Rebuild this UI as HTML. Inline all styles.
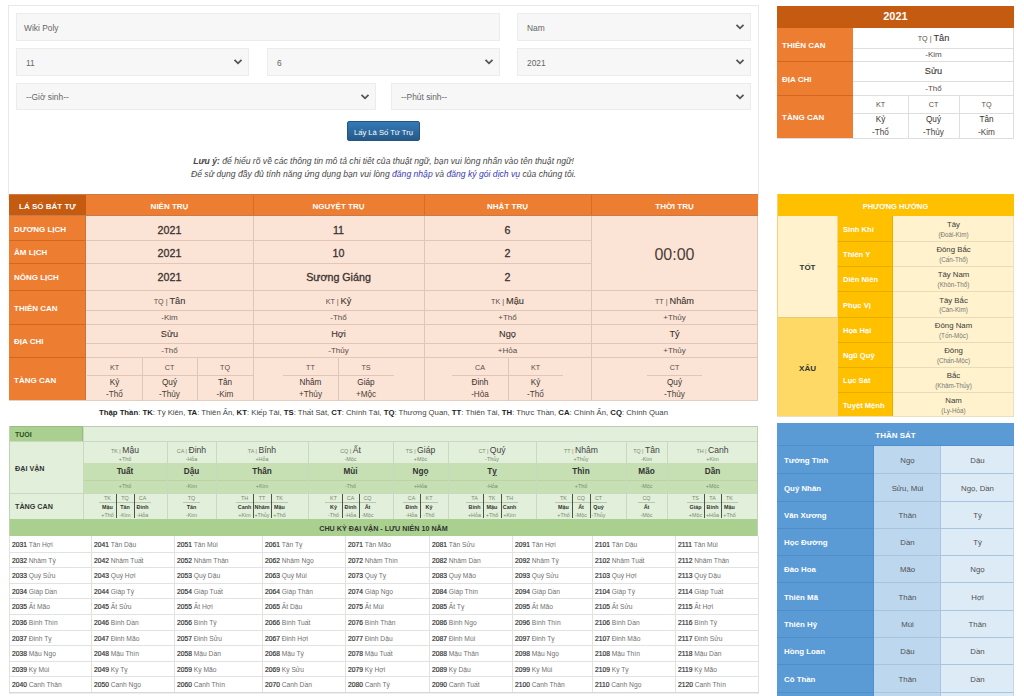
<!DOCTYPE html><html><head><meta charset="utf-8"><title>Lá số bát tự</title><style>
*{margin:0;padding:0}
html,body{width:1024px;height:696px;overflow:hidden;background:#fff}
body{position:relative;font-family:"Liberation Sans",sans-serif;color:#333}
.a{position:absolute}
.c{box-sizing:border-box;padding-top:3px;display:flex;align-items:center;justify-content:center;text-align:center;white-space:nowrap;line-height:1.2}
.fm{font-size:8.4px;color:#666;padding-top:2px}
.chev{display:block}
.btn{font-size:7.6px;color:#fff}
.note{font-size:8.6px;font-style:italic;color:#484848}
.note b{font-weight:bold}
.lk{color:#3a3ab4}
.hd{font-size:8px;font-weight:bold;color:#fff}
.lb{font-size:8px;font-weight:bold;color:#fff}
.v{padding-top:5px;font-size:10.7px;color:#3b3230;-webkit-text-stroke:0.3px #3b3230}
.v2{padding-top:2px;font-size:9.2px;color:#3b3230;-webkit-text-stroke:0.1px #3b3230}
.sm{padding-top:2px;font-size:7.2px;color:#5a4c48;-webkit-text-stroke:0}
.el{padding-top:1px;font-size:8px;color:#5a4c48}
.tg{padding-top:1px;font-size:8.2px;color:#4a3f3c;line-height:12.3px}
.tg i{font-style:normal;color:#3b3230}
.clk{font-size:16px;color:#4a3c38}
.tt{font-size:7.74px;color:#444}
.tt b{color:#222}
.gl{font-size:7px;font-weight:bold;color:#2e4d1e}
.gl2{font-size:7.2px;font-weight:bold;color:#333}
.gv{font-size:8.6px;color:#444;padding-top:1px}
.gt{font-size:5.4px;color:#7a8a70;padding-top:0}
.gtb{font-size:5.4px;font-weight:bold;color:#333;padding-top:0}
.gch{font-size:8.2px;font-weight:bold;color:#333;padding-top:0}
.yr{font-size:6.7px;color:#707070;padding-top:3px}
.yr b{color:#333;font-weight:normal;-webkit-text-stroke:0.2px #333}
.yh{padding-top:0;font-size:11px;font-weight:bold;color:#fff}
.yb{font-size:8px;font-weight:bold;color:#333}
.yl{font-size:7.6px;font-weight:bold;color:#fff}
.yv{font-size:7.8px;color:#3a3a3a;line-height:9.2px;flex-direction:column;padding-top:2px}
.ys{font-size:6.3px;color:#777}
.bl{font-size:7.85px;font-weight:bold;color:#fff}
.bv{font-size:7.8px;color:#505050}
</style></head><body>
<div class="a" style="left:8px;top:5px;width:751px;height:195px;border:1px solid #e8e8e8;border-bottom:none;box-sizing:border-box;background:#fff"></div>
<div class="a" style="left:16px;top:13px;width:484px;height:28px;background:#f7f7f7;border:1px solid #ececec;box-sizing:border-box"></div>
<div class="a c fm" style="left:24px;top:13px;width:456px;height:28px;justify-content:flex-start"><span>Wiki Poly</span></div>
<div class="a" style="left:517px;top:13px;width:234px;height:28px;background:#f7f7f7;border:1px solid #ececec;box-sizing:border-box"></div>
<div class="a c fm" style="left:527px;top:13px;width:204px;height:28px;justify-content:flex-start"><span>Nam</span></div>
<div class="a" style="left:735px;top:23.0px;width:10px;height:7px"><svg class="chev" width="10" height="7" viewBox="0 0 10 7"><path d="M1.5 1.8 L5 5.3 L8.5 1.8" fill="none" stroke="#555" stroke-width="1.8"/></svg></div>
<div class="a" style="left:16px;top:48px;width:233px;height:28px;background:#f7f7f7;border:1px solid #ececec;box-sizing:border-box"></div>
<div class="a c fm" style="left:26px;top:48px;width:203px;height:28px;justify-content:flex-start"><span>11</span></div>
<div class="a" style="left:233px;top:58.0px;width:10px;height:7px"><svg class="chev" width="10" height="7" viewBox="0 0 10 7"><path d="M1.5 1.8 L5 5.3 L8.5 1.8" fill="none" stroke="#555" stroke-width="1.8"/></svg></div>
<div class="a" style="left:267px;top:48px;width:233px;height:28px;background:#f7f7f7;border:1px solid #ececec;box-sizing:border-box"></div>
<div class="a c fm" style="left:277px;top:48px;width:203px;height:28px;justify-content:flex-start"><span>6</span></div>
<div class="a" style="left:484px;top:58.0px;width:10px;height:7px"><svg class="chev" width="10" height="7" viewBox="0 0 10 7"><path d="M1.5 1.8 L5 5.3 L8.5 1.8" fill="none" stroke="#555" stroke-width="1.8"/></svg></div>
<div class="a" style="left:517px;top:48px;width:234px;height:28px;background:#f7f7f7;border:1px solid #ececec;box-sizing:border-box"></div>
<div class="a c fm" style="left:527px;top:48px;width:204px;height:28px;justify-content:flex-start"><span>2021</span></div>
<div class="a" style="left:735px;top:58.0px;width:10px;height:7px"><svg class="chev" width="10" height="7" viewBox="0 0 10 7"><path d="M1.5 1.8 L5 5.3 L8.5 1.8" fill="none" stroke="#555" stroke-width="1.8"/></svg></div>
<div class="a" style="left:16px;top:83px;width:360px;height:27px;background:#f7f7f7;border:1px solid #ececec;box-sizing:border-box"></div>
<div class="a c fm" style="left:26px;top:83px;width:330px;height:27px;justify-content:flex-start"><span>--Giờ sinh--</span></div>
<div class="a" style="left:360px;top:92.5px;width:10px;height:7px"><svg class="chev" width="10" height="7" viewBox="0 0 10 7"><path d="M1.5 1.8 L5 5.3 L8.5 1.8" fill="none" stroke="#555" stroke-width="1.8"/></svg></div>
<div class="a" style="left:391px;top:83px;width:360px;height:27px;background:#f7f7f7;border:1px solid #ececec;box-sizing:border-box"></div>
<div class="a c fm" style="left:401px;top:83px;width:330px;height:27px;justify-content:flex-start"><span>--Phút sinh--</span></div>
<div class="a" style="left:735px;top:92.5px;width:10px;height:7px"><svg class="chev" width="10" height="7" viewBox="0 0 10 7"><path d="M1.5 1.8 L5 5.3 L8.5 1.8" fill="none" stroke="#555" stroke-width="1.8"/></svg></div>
<div class="a" style="left:347px;top:121px;width:73px;height:20px;background:linear-gradient(#337ab7,#265a88);border-radius:2px;border:1px solid #245580;box-sizing:border-box"></div>
<div class="a c btn" style="left:347px;top:121px;width:73px;height:20px;"><span>Lấy Lá Số Tứ Trụ</span></div>
<div class="a c note" style="left:100px;top:153px;width:567px;height:13px;"><span><b>Lưu ý:</b> để hiểu rõ về các thông tin mô tả chi tiết của thuật ngữ, bạn vui lòng nhấn vào tên thuật ngữ!</span></div>
<div class="a c note" style="left:100px;top:166px;width:567px;height:13px;"><span>Để sử dụng đầy đủ tính năng ứng dụng bạn vui lòng <span class="lk">đăng nhập</span> và <span class="lk">đăng ký gói dịch vụ</span> của chúng tôi.</span></div>
<div class="a" style="left:9px;top:194px;width:77px;height:22px;background:#c55a11"></div>
<div class="a" style="left:86px;top:194px;width:672px;height:22px;background:#ed7d31"></div>
<div class="a" style="left:253px;top:194px;width:1px;height:22px;background:#d86c22"></div>
<div class="a" style="left:424px;top:194px;width:1px;height:22px;background:#d86c22"></div>
<div class="a" style="left:591px;top:194px;width:1px;height:22px;background:#d86c22"></div>
<div class="a" style="left:9px;top:194px;width:749px;height:1px;background:#cf7a45"></div>
<div class="a" style="left:9px;top:215px;width:749px;height:1px;background:#c97a4a"></div>
<div class="a c hd" style="left:9px;top:194px;width:77px;height:22px;"><span>LÁ SỐ BÁT TỰ</span></div>
<div class="a c hd" style="left:86px;top:194px;width:167px;height:22px;"><span>NIÊN TRỤ</span></div>
<div class="a c hd" style="left:253px;top:194px;width:171px;height:22px;"><span>NGUYỆT TRỤ</span></div>
<div class="a c hd" style="left:424px;top:194px;width:167px;height:22px;"><span>NHẬT TRỤ</span></div>
<div class="a c hd" style="left:591px;top:194px;width:167px;height:22px;"><span>THỜI TRỤ</span></div>
<div class="a" style="left:9px;top:216px;width:77px;height:185px;background:#ed7d31"></div>
<div class="a c lb" style="left:14px;top:216px;width:72px;height:24px;justify-content:flex-start"><span>DƯƠNG LỊCH</span></div>
<div class="a" style="left:9px;top:240px;width:77px;height:1px;background:#d4671f"></div>
<div class="a c lb" style="left:14px;top:240px;width:72px;height:23px;justify-content:flex-start"><span>ÂM LỊCH</span></div>
<div class="a" style="left:9px;top:263px;width:77px;height:1px;background:#d4671f"></div>
<div class="a c lb" style="left:14px;top:263px;width:72px;height:27px;justify-content:flex-start"><span>NÔNG LỊCH</span></div>
<div class="a" style="left:9px;top:290px;width:77px;height:1px;background:#d4671f"></div>
<div class="a c lb" style="left:14px;top:290px;width:72px;height:34px;justify-content:flex-start"><span>THIÊN CAN</span></div>
<div class="a" style="left:9px;top:324px;width:77px;height:1px;background:#d4671f"></div>
<div class="a c lb" style="left:14px;top:324px;width:72px;height:33px;justify-content:flex-start"><span>ĐỊA CHI</span></div>
<div class="a" style="left:9px;top:357px;width:77px;height:1px;background:#d4671f"></div>
<div class="a c lb" style="left:14px;top:357px;width:72px;height:44px;justify-content:flex-start"><span>TÀNG CAN</span></div>
<div class="a" style="left:85px;top:216px;width:1px;height:185px;background:#c8743e"></div>
<div class="a" style="left:86px;top:216px;width:672px;height:185px;background:#fbe4d5"></div>
<div class="a" style="left:86px;top:240px;width:505px;height:1px;background:#dfc6b6"></div>
<div class="a" style="left:86px;top:263px;width:505px;height:1px;background:#dfc6b6"></div>
<div class="a" style="left:86px;top:290px;width:672px;height:1px;background:#dfc6b6"></div>
<div class="a" style="left:86px;top:310px;width:672px;height:1px;background:#dfc6b6"></div>
<div class="a" style="left:86px;top:324px;width:672px;height:1px;background:#dfc6b6"></div>
<div class="a" style="left:86px;top:343px;width:672px;height:1px;background:#dfc6b6"></div>
<div class="a" style="left:86px;top:357px;width:672px;height:1px;background:#dfc6b6"></div>
<div class="a" style="left:253px;top:216px;width:1px;height:185px;background:#dfc6b6"></div>
<div class="a" style="left:424px;top:216px;width:1px;height:185px;background:#dfc6b6"></div>
<div class="a" style="left:591px;top:216px;width:1px;height:185px;background:#dfc6b6"></div>
<div class="a" style="left:757px;top:216px;width:1px;height:185px;background:#e0c8b8"></div>
<div class="a" style="left:9px;top:400px;width:749px;height:1px;background:#e3cfc2"></div>
<div class="a c v" style="left:86px;top:216px;width:167px;height:24px;"><span>2021</span></div>
<div class="a c v" style="left:253px;top:216px;width:171px;height:24px;"><span>11</span></div>
<div class="a c v" style="left:424px;top:216px;width:167px;height:24px;"><span>6</span></div>
<div class="a c v" style="left:86px;top:240px;width:167px;height:23px;padding-top:3px"><span>2021</span></div>
<div class="a c v" style="left:253px;top:240px;width:171px;height:23px;padding-top:3px"><span>10</span></div>
<div class="a c v" style="left:424px;top:240px;width:167px;height:23px;padding-top:3px"><span>2</span></div>
<div class="a c v" style="left:86px;top:263px;width:167px;height:27px;padding-top:2.5px"><span>2021</span></div>
<div class="a c v" style="left:253px;top:263px;width:171px;height:27px;padding-top:2.5px"><span>Sương Giáng</span></div>
<div class="a c v" style="left:424px;top:263px;width:167px;height:27px;padding-top:2.5px"><span>2</span></div>
<div class="a c clk" style="left:591px;top:216px;width:167px;height:74px;"><span>00:00</span></div>
<div class="a c v2" style="left:86px;top:290px;width:167px;height:21px;"><span><span class="sm">TQ | </span>Tân</span></div>
<div class="a c el" style="left:86px;top:311px;width:167px;height:13px;"><span>-Kim</span></div>
<div class="a c v2" style="left:86px;top:324px;width:167px;height:19px;"><span>Sửu</span></div>
<div class="a c el" style="left:86px;top:343px;width:167px;height:14px;"><span>-Thổ</span></div>
<div class="a c v2" style="left:253px;top:290px;width:171px;height:21px;"><span><span class="sm">KT | </span>Kỷ</span></div>
<div class="a c el" style="left:253px;top:311px;width:171px;height:13px;"><span>-Thổ</span></div>
<div class="a c v2" style="left:253px;top:324px;width:171px;height:19px;"><span>Hợi</span></div>
<div class="a c el" style="left:253px;top:343px;width:171px;height:14px;"><span>-Thủy</span></div>
<div class="a c v2" style="left:424px;top:290px;width:167px;height:21px;"><span><span class="sm">TK | </span>Mậu</span></div>
<div class="a c el" style="left:424px;top:311px;width:167px;height:13px;"><span>+Thổ</span></div>
<div class="a c v2" style="left:424px;top:324px;width:167px;height:19px;"><span>Ngọ</span></div>
<div class="a c el" style="left:424px;top:343px;width:167px;height:14px;"><span>+Hỏa</span></div>
<div class="a c v2" style="left:591px;top:290px;width:167px;height:21px;"><span><span class="sm">TT | </span>Nhâm</span></div>
<div class="a c el" style="left:591px;top:311px;width:167px;height:13px;"><span>+Thủy</span></div>
<div class="a c v2" style="left:591px;top:324px;width:167px;height:19px;"><span>Tý</span></div>
<div class="a c el" style="left:591px;top:343px;width:167px;height:14px;"><span>+Thủy</span></div>
<div class="a" style="left:87px;top:375px;width:166px;height:1px;background:#dfc6b6"></div>
<div class="a" style="left:142px;top:357px;width:1px;height:44px;background:#dfc6b6"></div>
<div class="a" style="left:197px;top:357px;width:1px;height:44px;background:#dfc6b6"></div>
<div class="a c sm" style="left:87px;top:357px;width:55px;height:18px;padding-top:5px"><span>KT</span></div>
<div class="a c tg" style="left:87px;top:376px;width:55px;height:25px;"><span><i>Kỷ</i><br>-Thổ</span></div>
<div class="a c sm" style="left:142px;top:357px;width:55px;height:18px;padding-top:5px"><span>CT</span></div>
<div class="a c tg" style="left:142px;top:376px;width:55px;height:25px;"><span><i>Quý</i><br>-Thủy</span></div>
<div class="a c sm" style="left:197px;top:357px;width:56px;height:18px;padding-top:5px"><span>TQ</span></div>
<div class="a c tg" style="left:197px;top:376px;width:56px;height:25px;"><span><i>Tân</i><br>-Kim</span></div>
<div class="a" style="left:283px;top:375px;width:111px;height:1px;background:#dfc6b6"></div>
<div class="a" style="left:338px;top:357px;width:1px;height:44px;background:#dfc6b6"></div>
<div class="a c sm" style="left:283px;top:357px;width:55px;height:18px;padding-top:5px"><span>TT</span></div>
<div class="a c tg" style="left:283px;top:376px;width:55px;height:25px;"><span><i>Nhâm</i><br>+Thủy</span></div>
<div class="a c sm" style="left:338px;top:357px;width:56px;height:18px;padding-top:5px"><span>TS</span></div>
<div class="a c tg" style="left:338px;top:376px;width:56px;height:25px;"><span><i>Giáp</i><br>+Mộc</span></div>
<div class="a" style="left:452px;top:375px;width:111px;height:1px;background:#dfc6b6"></div>
<div class="a" style="left:508px;top:357px;width:1px;height:44px;background:#dfc6b6"></div>
<div class="a c sm" style="left:452px;top:357px;width:56px;height:18px;padding-top:5px"><span>CA</span></div>
<div class="a c tg" style="left:452px;top:376px;width:56px;height:25px;"><span><i>Đinh</i><br>-Hỏa</span></div>
<div class="a c sm" style="left:508px;top:357px;width:55px;height:18px;padding-top:5px"><span>KT</span></div>
<div class="a c tg" style="left:508px;top:376px;width:55px;height:25px;"><span><i>Kỷ</i><br>-Thổ</span></div>
<div class="a" style="left:647px;top:375px;width:55px;height:1px;background:#dfc6b6"></div>
<div class="a c sm" style="left:647px;top:357px;width:55px;height:18px;padding-top:5px"><span>CT</span></div>
<div class="a c tg" style="left:647px;top:376px;width:55px;height:25px;"><span><i>Quý</i><br>-Thủy</span></div>
<div class="a c tt" style="left:9px;top:403px;width:749px;height:16px;"><span><b>Thập Thần</b>: <b>TK</b>: Tỷ Kiên, <b>TA</b>: Thiên Ấn, <b>KT</b>: Kiếp Tài, <b>TS</b>: Thất Sát, <b>CT</b>: Chính Tài, <b>TQ</b>: Thương Quan, <b>TT</b>: Thiên Tài, <b>TH</b>: Thực Thần, <b>CA</b>: Chính Ấn, <b>CQ</b>: Chính Quan</span></div>
<div class="a" style="left:9px;top:426px;width:749px;height:110px;background:#e2efda"></div>
<div class="a" style="left:9px;top:426px;width:74px;height:16px;background:#a9d08e"></div>
<div class="a" style="left:83px;top:463px;width:675px;height:30px;background:#c6e0b4"></div>
<div class="a" style="left:83px;top:480px;width:675px;height:1px;background:#bad4a6"></div>
<div class="a" style="left:9px;top:519px;width:749px;height:17px;background:#a9d08e"></div>
<div class="a" style="left:9px;top:426px;width:749px;height:1px;background:#bccab3"></div>
<div class="a" style="left:9px;top:426px;width:74px;height:16px;border:1px solid #9dbb8a;box-sizing:border-box"></div>
<div class="a" style="left:9px;top:441px;width:749px;height:1px;background:#c9d9bf"></div>
<div class="a" style="left:9px;top:493px;width:749px;height:1px;background:#c9d9bf"></div>
<div class="a" style="left:83px;top:426px;width:1px;height:93px;background:#c9d9bf"></div>
<div class="a" style="left:167px;top:441px;width:1px;height:78px;background:#c9d9bf"></div>
<div class="a" style="left:216px;top:441px;width:1px;height:78px;background:#c9d9bf"></div>
<div class="a" style="left:308px;top:441px;width:1px;height:78px;background:#c9d9bf"></div>
<div class="a" style="left:393px;top:441px;width:1px;height:78px;background:#c9d9bf"></div>
<div class="a" style="left:448px;top:441px;width:1px;height:78px;background:#c9d9bf"></div>
<div class="a" style="left:536px;top:441px;width:1px;height:78px;background:#c9d9bf"></div>
<div class="a" style="left:626px;top:441px;width:1px;height:78px;background:#c9d9bf"></div>
<div class="a" style="left:667px;top:441px;width:1px;height:78px;background:#c9d9bf"></div>
<div class="a" style="left:9px;top:426px;width:1px;height:110px;background:#bfd3b2"></div>
<div class="a" style="left:757px;top:426px;width:1px;height:110px;background:#bfd3b2"></div>
<div class="a c gl" style="left:15px;top:426px;width:68px;height:16px;justify-content:flex-start"><span>TUỔI</span></div>
<div class="a c gl2" style="left:15px;top:442px;width:68px;height:51px;justify-content:flex-start"><span>ĐẠI VẬN</span></div>
<div class="a c gl2" style="left:15px;top:493px;width:68px;height:26px;justify-content:flex-start"><span>TÀNG CAN</span></div>
<div class="a c gl2" style="left:9px;top:519px;width:749px;height:17px;font-size:7.2px"><span>CHU KỲ ĐẠI VẬN - LƯU NIÊN 10 NĂM</span></div>
<div class="a c gv" style="left:83px;top:443px;width:84px;height:13px;"><span><span class="gt">TK | </span>Mậu</span></div>
<div class="a c gt" style="left:83px;top:455px;width:84px;height:8px;"><span>+Thổ</span></div>
<div class="a c gch" style="left:83px;top:463px;width:84px;height:17px;"><span>Tuất</span></div>
<div class="a c gt" style="left:83px;top:480px;width:84px;height:13px;"><span>+Thổ</span></div>
<div class="a" style="left:99px;top:502px;width:52px;height:1px;background:#b8c8ae"></div>
<div class="a" style="left:116px;top:494px;width:1px;height:24px;background:#4a5545"></div>
<div class="a" style="left:134px;top:494px;width:1px;height:24px;background:#4a5545"></div>
<div class="a c gt" style="left:99px;top:494px;width:17px;height:8px;"><span>TK</span></div>
<div class="a c gtb" style="left:99px;top:503px;width:17px;height:8px;"><span>Mậu</span></div>
<div class="a c gt" style="left:99px;top:511px;width:17px;height:8px;"><span>+Thổ</span></div>
<div class="a c gt" style="left:116px;top:494px;width:18px;height:8px;"><span>TQ</span></div>
<div class="a c gtb" style="left:116px;top:503px;width:18px;height:8px;"><span>Tân</span></div>
<div class="a c gt" style="left:116px;top:511px;width:18px;height:8px;"><span>-Kim</span></div>
<div class="a c gt" style="left:134px;top:494px;width:17px;height:8px;"><span>CA</span></div>
<div class="a c gtb" style="left:134px;top:503px;width:17px;height:8px;"><span>Đinh</span></div>
<div class="a c gt" style="left:134px;top:511px;width:17px;height:8px;"><span>-Hỏa</span></div>
<div class="a c gv" style="left:167px;top:443px;width:49px;height:13px;"><span><span class="gt">CA | </span>Đinh</span></div>
<div class="a c gt" style="left:167px;top:455px;width:49px;height:8px;"><span>-Hỏa</span></div>
<div class="a c gch" style="left:167px;top:463px;width:49px;height:17px;"><span>Dậu</span></div>
<div class="a c gt" style="left:167px;top:480px;width:49px;height:13px;"><span>-Kim</span></div>
<div class="a" style="left:183px;top:502px;width:17px;height:1px;background:#b8c8ae"></div>
<div class="a c gt" style="left:183px;top:494px;width:17px;height:8px;"><span>TQ</span></div>
<div class="a c gtb" style="left:183px;top:503px;width:17px;height:8px;"><span>Tân</span></div>
<div class="a c gt" style="left:183px;top:511px;width:17px;height:8px;"><span>-Kim</span></div>
<div class="a c gv" style="left:216px;top:443px;width:92px;height:13px;"><span><span class="gt">TA | </span>Bính</span></div>
<div class="a c gt" style="left:216px;top:455px;width:92px;height:8px;"><span>+Hỏa</span></div>
<div class="a c gch" style="left:216px;top:463px;width:92px;height:17px;"><span>Thân</span></div>
<div class="a c gt" style="left:216px;top:480px;width:92px;height:13px;"><span>+Kim</span></div>
<div class="a" style="left:236px;top:502px;width:52px;height:1px;background:#b8c8ae"></div>
<div class="a" style="left:253px;top:494px;width:1px;height:24px;background:#4a5545"></div>
<div class="a" style="left:271px;top:494px;width:1px;height:24px;background:#4a5545"></div>
<div class="a c gt" style="left:236px;top:494px;width:17px;height:8px;"><span>TH</span></div>
<div class="a c gtb" style="left:236px;top:503px;width:17px;height:8px;"><span>Canh</span></div>
<div class="a c gt" style="left:236px;top:511px;width:17px;height:8px;"><span>+Kim</span></div>
<div class="a c gt" style="left:253px;top:494px;width:18px;height:8px;"><span>TT</span></div>
<div class="a c gtb" style="left:253px;top:503px;width:18px;height:8px;"><span>Nhâm</span></div>
<div class="a c gt" style="left:253px;top:511px;width:18px;height:8px;"><span>+Thủy</span></div>
<div class="a c gt" style="left:271px;top:494px;width:17px;height:8px;"><span>TK</span></div>
<div class="a c gtb" style="left:271px;top:503px;width:17px;height:8px;"><span>Mậu</span></div>
<div class="a c gt" style="left:271px;top:511px;width:17px;height:8px;"><span>+Thổ</span></div>
<div class="a c gv" style="left:308px;top:443px;width:85px;height:13px;"><span><span class="gt">CQ | </span>Ất</span></div>
<div class="a c gt" style="left:308px;top:455px;width:85px;height:8px;"><span>-Mộc</span></div>
<div class="a c gch" style="left:308px;top:463px;width:85px;height:17px;"><span>Mùi</span></div>
<div class="a c gt" style="left:308px;top:480px;width:85px;height:13px;"><span>-Thổ</span></div>
<div class="a" style="left:325px;top:502px;width:51px;height:1px;background:#b8c8ae"></div>
<div class="a" style="left:342px;top:494px;width:1px;height:24px;background:#4a5545"></div>
<div class="a" style="left:359px;top:494px;width:1px;height:24px;background:#4a5545"></div>
<div class="a c gt" style="left:325px;top:494px;width:17px;height:8px;"><span>KT</span></div>
<div class="a c gtb" style="left:325px;top:503px;width:17px;height:8px;"><span>Kỷ</span></div>
<div class="a c gt" style="left:325px;top:511px;width:17px;height:8px;"><span>-Thổ</span></div>
<div class="a c gt" style="left:342px;top:494px;width:17px;height:8px;"><span>CA</span></div>
<div class="a c gtb" style="left:342px;top:503px;width:17px;height:8px;"><span>Đinh</span></div>
<div class="a c gt" style="left:342px;top:511px;width:17px;height:8px;"><span>-Hỏa</span></div>
<div class="a c gt" style="left:359px;top:494px;width:17px;height:8px;"><span>CQ</span></div>
<div class="a c gtb" style="left:359px;top:503px;width:17px;height:8px;"><span>Ất</span></div>
<div class="a c gt" style="left:359px;top:511px;width:17px;height:8px;"><span>-Mộc</span></div>
<div class="a c gv" style="left:393px;top:443px;width:55px;height:13px;"><span><span class="gt">TS | </span>Giáp</span></div>
<div class="a c gt" style="left:393px;top:455px;width:55px;height:8px;"><span>+Mộc</span></div>
<div class="a c gch" style="left:393px;top:463px;width:55px;height:17px;"><span>Ngọ</span></div>
<div class="a c gt" style="left:393px;top:480px;width:55px;height:13px;"><span>+Hỏa</span></div>
<div class="a" style="left:403px;top:502px;width:35px;height:1px;background:#b8c8ae"></div>
<div class="a" style="left:420px;top:494px;width:1px;height:24px;background:#4a5545"></div>
<div class="a c gt" style="left:403px;top:494px;width:17px;height:8px;"><span>CA</span></div>
<div class="a c gtb" style="left:403px;top:503px;width:17px;height:8px;"><span>Đinh</span></div>
<div class="a c gt" style="left:403px;top:511px;width:17px;height:8px;"><span>-Hỏa</span></div>
<div class="a c gt" style="left:420px;top:494px;width:18px;height:8px;"><span>KT</span></div>
<div class="a c gtb" style="left:420px;top:503px;width:18px;height:8px;"><span>Kỷ</span></div>
<div class="a c gt" style="left:420px;top:511px;width:18px;height:8px;"><span>-Thổ</span></div>
<div class="a c gv" style="left:448px;top:443px;width:88px;height:13px;"><span><span class="gt">CT | </span>Quý</span></div>
<div class="a c gt" style="left:448px;top:455px;width:88px;height:8px;"><span>-Thủy</span></div>
<div class="a c gch" style="left:448px;top:463px;width:88px;height:17px;"><span>Tỵ</span></div>
<div class="a c gt" style="left:448px;top:480px;width:88px;height:13px;"><span>-Hỏa</span></div>
<div class="a" style="left:466px;top:502px;width:52px;height:1px;background:#b8c8ae"></div>
<div class="a" style="left:483px;top:494px;width:1px;height:24px;background:#4a5545"></div>
<div class="a" style="left:501px;top:494px;width:1px;height:24px;background:#4a5545"></div>
<div class="a c gt" style="left:466px;top:494px;width:17px;height:8px;"><span>TA</span></div>
<div class="a c gtb" style="left:466px;top:503px;width:17px;height:8px;"><span>Bính</span></div>
<div class="a c gt" style="left:466px;top:511px;width:17px;height:8px;"><span>+Hỏa</span></div>
<div class="a c gt" style="left:483px;top:494px;width:18px;height:8px;"><span>TK</span></div>
<div class="a c gtb" style="left:483px;top:503px;width:18px;height:8px;"><span>Mậu</span></div>
<div class="a c gt" style="left:483px;top:511px;width:18px;height:8px;"><span>+Thổ</span></div>
<div class="a c gt" style="left:501px;top:494px;width:17px;height:8px;"><span>TH</span></div>
<div class="a c gtb" style="left:501px;top:503px;width:17px;height:8px;"><span>Canh</span></div>
<div class="a c gt" style="left:501px;top:511px;width:17px;height:8px;"><span>+Kim</span></div>
<div class="a c gv" style="left:536px;top:443px;width:90px;height:13px;"><span><span class="gt">TT | </span>Nhâm</span></div>
<div class="a c gt" style="left:536px;top:455px;width:90px;height:8px;"><span>+Thủy</span></div>
<div class="a c gch" style="left:536px;top:463px;width:90px;height:17px;"><span>Thìn</span></div>
<div class="a c gt" style="left:536px;top:480px;width:90px;height:13px;"><span>+Thổ</span></div>
<div class="a" style="left:555px;top:502px;width:52px;height:1px;background:#b8c8ae"></div>
<div class="a" style="left:572px;top:494px;width:1px;height:24px;background:#4a5545"></div>
<div class="a" style="left:590px;top:494px;width:1px;height:24px;background:#4a5545"></div>
<div class="a c gt" style="left:555px;top:494px;width:17px;height:8px;"><span>TK</span></div>
<div class="a c gtb" style="left:555px;top:503px;width:17px;height:8px;"><span>Mậu</span></div>
<div class="a c gt" style="left:555px;top:511px;width:17px;height:8px;"><span>+Thổ</span></div>
<div class="a c gt" style="left:572px;top:494px;width:18px;height:8px;"><span>CQ</span></div>
<div class="a c gtb" style="left:572px;top:503px;width:18px;height:8px;"><span>Ất</span></div>
<div class="a c gt" style="left:572px;top:511px;width:18px;height:8px;"><span>-Mộc</span></div>
<div class="a c gt" style="left:590px;top:494px;width:17px;height:8px;"><span>CT</span></div>
<div class="a c gtb" style="left:590px;top:503px;width:17px;height:8px;"><span>Quý</span></div>
<div class="a c gt" style="left:590px;top:511px;width:17px;height:8px;"><span>-Thủy</span></div>
<div class="a c gv" style="left:626px;top:443px;width:41px;height:13px;"><span><span class="gt">TQ | </span>Tân</span></div>
<div class="a c gt" style="left:626px;top:455px;width:41px;height:8px;"><span>-Kim</span></div>
<div class="a c gch" style="left:626px;top:463px;width:41px;height:17px;"><span>Mão</span></div>
<div class="a c gt" style="left:626px;top:480px;width:41px;height:13px;"><span>-Mộc</span></div>
<div class="a" style="left:638px;top:502px;width:17px;height:1px;background:#b8c8ae"></div>
<div class="a c gt" style="left:638px;top:494px;width:17px;height:8px;"><span>CQ</span></div>
<div class="a c gtb" style="left:638px;top:503px;width:17px;height:8px;"><span>Ất</span></div>
<div class="a c gt" style="left:638px;top:511px;width:17px;height:8px;"><span>-Mộc</span></div>
<div class="a c gv" style="left:667px;top:443px;width:91px;height:13px;"><span><span class="gt">TH | </span>Canh</span></div>
<div class="a c gt" style="left:667px;top:455px;width:91px;height:8px;"><span>+Kim</span></div>
<div class="a c gch" style="left:667px;top:463px;width:91px;height:17px;"><span>Dần</span></div>
<div class="a c gt" style="left:667px;top:480px;width:91px;height:13px;"><span>+Mộc</span></div>
<div class="a" style="left:687px;top:502px;width:51px;height:1px;background:#b8c8ae"></div>
<div class="a" style="left:704px;top:494px;width:1px;height:24px;background:#4a5545"></div>
<div class="a" style="left:721px;top:494px;width:1px;height:24px;background:#4a5545"></div>
<div class="a c gt" style="left:687px;top:494px;width:17px;height:8px;"><span>TS</span></div>
<div class="a c gtb" style="left:687px;top:503px;width:17px;height:8px;"><span>Giáp</span></div>
<div class="a c gt" style="left:687px;top:511px;width:17px;height:8px;"><span>+Mộc</span></div>
<div class="a c gt" style="left:704px;top:494px;width:17px;height:8px;"><span>TA</span></div>
<div class="a c gtb" style="left:704px;top:503px;width:17px;height:8px;"><span>Bính</span></div>
<div class="a c gt" style="left:704px;top:511px;width:17px;height:8px;"><span>+Hỏa</span></div>
<div class="a c gt" style="left:721px;top:494px;width:17px;height:8px;"><span>TK</span></div>
<div class="a c gtb" style="left:721px;top:503px;width:17px;height:8px;"><span>Mậu</span></div>
<div class="a c gt" style="left:721px;top:511px;width:17px;height:8px;"><span>+Thổ</span></div>
<div class="a" style="left:9px;top:536px;width:750px;height:157px;background:#fff"></div>
<div class="a" style="left:9px;top:552px;width:749px;height:1px;background:#e2e2e2"></div>
<div class="a" style="left:9px;top:567px;width:749px;height:1px;background:#e2e2e2"></div>
<div class="a" style="left:9px;top:583px;width:749px;height:1px;background:#e2e2e2"></div>
<div class="a" style="left:9px;top:598px;width:749px;height:1px;background:#e2e2e2"></div>
<div class="a" style="left:9px;top:614px;width:749px;height:1px;background:#e2e2e2"></div>
<div class="a" style="left:9px;top:630px;width:749px;height:1px;background:#e2e2e2"></div>
<div class="a" style="left:9px;top:645px;width:749px;height:1px;background:#e2e2e2"></div>
<div class="a" style="left:9px;top:661px;width:749px;height:1px;background:#e2e2e2"></div>
<div class="a" style="left:9px;top:676px;width:749px;height:1px;background:#e2e2e2"></div>
<div class="a" style="left:9px;top:692px;width:750px;height:1px;background:#d8d8d8"></div>
<div class="a" style="left:9px;top:693px;width:750px;height:1px;background:#eeeeee"></div>
<div class="a" style="left:9px;top:536px;width:1px;height:156px;background:#e2e2e2"></div>
<div class="a" style="left:91px;top:536px;width:1px;height:156px;background:#e2e2e2"></div>
<div class="a" style="left:174px;top:536px;width:1px;height:156px;background:#e2e2e2"></div>
<div class="a" style="left:262px;top:536px;width:1px;height:156px;background:#e2e2e2"></div>
<div class="a" style="left:345px;top:536px;width:1px;height:156px;background:#e2e2e2"></div>
<div class="a" style="left:429px;top:536px;width:1px;height:156px;background:#e2e2e2"></div>
<div class="a" style="left:512px;top:536px;width:1px;height:156px;background:#e2e2e2"></div>
<div class="a" style="left:592px;top:536px;width:1px;height:156px;background:#e2e2e2"></div>
<div class="a" style="left:675px;top:536px;width:1px;height:156px;background:#e2e2e2"></div>
<div class="a" style="left:758px;top:536px;width:1px;height:156px;background:#e2e2e2"></div>
<div class="a c yr" style="left:12px;top:536px;width:79px;height:16px;justify-content:flex-start"><span><b>2031</b> Tân Hợi</span></div>
<div class="a c yr" style="left:12px;top:552px;width:79px;height:15px;justify-content:flex-start"><span><b>2032</b> Nhâm Tý</span></div>
<div class="a c yr" style="left:12px;top:567px;width:79px;height:16px;justify-content:flex-start"><span><b>2033</b> Quý Sửu</span></div>
<div class="a c yr" style="left:12px;top:583px;width:79px;height:15px;justify-content:flex-start"><span><b>2034</b> Giáp Dần</span></div>
<div class="a c yr" style="left:12px;top:598px;width:79px;height:16px;justify-content:flex-start"><span><b>2035</b> Ất Mão</span></div>
<div class="a c yr" style="left:12px;top:614px;width:79px;height:16px;justify-content:flex-start"><span><b>2036</b> Bính Thìn</span></div>
<div class="a c yr" style="left:12px;top:630px;width:79px;height:15px;justify-content:flex-start"><span><b>2037</b> Đinh Tỵ</span></div>
<div class="a c yr" style="left:12px;top:645px;width:79px;height:16px;justify-content:flex-start"><span><b>2038</b> Mậu Ngọ</span></div>
<div class="a c yr" style="left:12px;top:661px;width:79px;height:15px;justify-content:flex-start"><span><b>2039</b> Kỷ Mùi</span></div>
<div class="a c yr" style="left:12px;top:676px;width:79px;height:16px;justify-content:flex-start"><span><b>2040</b> Canh Thân</span></div>
<div class="a c yr" style="left:94px;top:536px;width:80px;height:16px;justify-content:flex-start"><span><b>2041</b> Tân Dậu</span></div>
<div class="a c yr" style="left:94px;top:552px;width:80px;height:15px;justify-content:flex-start"><span><b>2042</b> Nhâm Tuất</span></div>
<div class="a c yr" style="left:94px;top:567px;width:80px;height:16px;justify-content:flex-start"><span><b>2043</b> Quý Hợi</span></div>
<div class="a c yr" style="left:94px;top:583px;width:80px;height:15px;justify-content:flex-start"><span><b>2044</b> Giáp Tý</span></div>
<div class="a c yr" style="left:94px;top:598px;width:80px;height:16px;justify-content:flex-start"><span><b>2045</b> Ất Sửu</span></div>
<div class="a c yr" style="left:94px;top:614px;width:80px;height:16px;justify-content:flex-start"><span><b>2046</b> Bính Dần</span></div>
<div class="a c yr" style="left:94px;top:630px;width:80px;height:15px;justify-content:flex-start"><span><b>2047</b> Đinh Mão</span></div>
<div class="a c yr" style="left:94px;top:645px;width:80px;height:16px;justify-content:flex-start"><span><b>2048</b> Mậu Thìn</span></div>
<div class="a c yr" style="left:94px;top:661px;width:80px;height:15px;justify-content:flex-start"><span><b>2049</b> Kỷ Tỵ</span></div>
<div class="a c yr" style="left:94px;top:676px;width:80px;height:16px;justify-content:flex-start"><span><b>2050</b> Canh Ngọ</span></div>
<div class="a c yr" style="left:177px;top:536px;width:85px;height:16px;justify-content:flex-start"><span><b>2051</b> Tân Mùi</span></div>
<div class="a c yr" style="left:177px;top:552px;width:85px;height:15px;justify-content:flex-start"><span><b>2052</b> Nhâm Thân</span></div>
<div class="a c yr" style="left:177px;top:567px;width:85px;height:16px;justify-content:flex-start"><span><b>2053</b> Quý Dậu</span></div>
<div class="a c yr" style="left:177px;top:583px;width:85px;height:15px;justify-content:flex-start"><span><b>2054</b> Giáp Tuất</span></div>
<div class="a c yr" style="left:177px;top:598px;width:85px;height:16px;justify-content:flex-start"><span><b>2055</b> Ất Hợi</span></div>
<div class="a c yr" style="left:177px;top:614px;width:85px;height:16px;justify-content:flex-start"><span><b>2056</b> Bính Tý</span></div>
<div class="a c yr" style="left:177px;top:630px;width:85px;height:15px;justify-content:flex-start"><span><b>2057</b> Đinh Sửu</span></div>
<div class="a c yr" style="left:177px;top:645px;width:85px;height:16px;justify-content:flex-start"><span><b>2058</b> Mậu Dần</span></div>
<div class="a c yr" style="left:177px;top:661px;width:85px;height:15px;justify-content:flex-start"><span><b>2059</b> Kỷ Mão</span></div>
<div class="a c yr" style="left:177px;top:676px;width:85px;height:16px;justify-content:flex-start"><span><b>2060</b> Canh Thìn</span></div>
<div class="a c yr" style="left:265px;top:536px;width:80px;height:16px;justify-content:flex-start"><span><b>2061</b> Tân Tỵ</span></div>
<div class="a c yr" style="left:265px;top:552px;width:80px;height:15px;justify-content:flex-start"><span><b>2062</b> Nhâm Ngọ</span></div>
<div class="a c yr" style="left:265px;top:567px;width:80px;height:16px;justify-content:flex-start"><span><b>2063</b> Quý Mùi</span></div>
<div class="a c yr" style="left:265px;top:583px;width:80px;height:15px;justify-content:flex-start"><span><b>2064</b> Giáp Thân</span></div>
<div class="a c yr" style="left:265px;top:598px;width:80px;height:16px;justify-content:flex-start"><span><b>2065</b> Ất Dậu</span></div>
<div class="a c yr" style="left:265px;top:614px;width:80px;height:16px;justify-content:flex-start"><span><b>2066</b> Bính Tuất</span></div>
<div class="a c yr" style="left:265px;top:630px;width:80px;height:15px;justify-content:flex-start"><span><b>2067</b> Đinh Hợi</span></div>
<div class="a c yr" style="left:265px;top:645px;width:80px;height:16px;justify-content:flex-start"><span><b>2068</b> Mậu Tý</span></div>
<div class="a c yr" style="left:265px;top:661px;width:80px;height:15px;justify-content:flex-start"><span><b>2069</b> Kỷ Sửu</span></div>
<div class="a c yr" style="left:265px;top:676px;width:80px;height:16px;justify-content:flex-start"><span><b>2070</b> Canh Dần</span></div>
<div class="a c yr" style="left:348px;top:536px;width:81px;height:16px;justify-content:flex-start"><span><b>2071</b> Tân Mão</span></div>
<div class="a c yr" style="left:348px;top:552px;width:81px;height:15px;justify-content:flex-start"><span><b>2072</b> Nhâm Thìn</span></div>
<div class="a c yr" style="left:348px;top:567px;width:81px;height:16px;justify-content:flex-start"><span><b>2073</b> Quý Tỵ</span></div>
<div class="a c yr" style="left:348px;top:583px;width:81px;height:15px;justify-content:flex-start"><span><b>2074</b> Giáp Ngọ</span></div>
<div class="a c yr" style="left:348px;top:598px;width:81px;height:16px;justify-content:flex-start"><span><b>2075</b> Ất Mùi</span></div>
<div class="a c yr" style="left:348px;top:614px;width:81px;height:16px;justify-content:flex-start"><span><b>2076</b> Bính Thân</span></div>
<div class="a c yr" style="left:348px;top:630px;width:81px;height:15px;justify-content:flex-start"><span><b>2077</b> Đinh Dậu</span></div>
<div class="a c yr" style="left:348px;top:645px;width:81px;height:16px;justify-content:flex-start"><span><b>2078</b> Mậu Tuất</span></div>
<div class="a c yr" style="left:348px;top:661px;width:81px;height:15px;justify-content:flex-start"><span><b>2079</b> Kỷ Hợi</span></div>
<div class="a c yr" style="left:348px;top:676px;width:81px;height:16px;justify-content:flex-start"><span><b>2080</b> Canh Tý</span></div>
<div class="a c yr" style="left:432px;top:536px;width:80px;height:16px;justify-content:flex-start"><span><b>2081</b> Tân Sửu</span></div>
<div class="a c yr" style="left:432px;top:552px;width:80px;height:15px;justify-content:flex-start"><span><b>2082</b> Nhâm Dần</span></div>
<div class="a c yr" style="left:432px;top:567px;width:80px;height:16px;justify-content:flex-start"><span><b>2083</b> Quý Mão</span></div>
<div class="a c yr" style="left:432px;top:583px;width:80px;height:15px;justify-content:flex-start"><span><b>2084</b> Giáp Thìn</span></div>
<div class="a c yr" style="left:432px;top:598px;width:80px;height:16px;justify-content:flex-start"><span><b>2085</b> Ất Tỵ</span></div>
<div class="a c yr" style="left:432px;top:614px;width:80px;height:16px;justify-content:flex-start"><span><b>2086</b> Bính Ngọ</span></div>
<div class="a c yr" style="left:432px;top:630px;width:80px;height:15px;justify-content:flex-start"><span><b>2087</b> Đinh Mùi</span></div>
<div class="a c yr" style="left:432px;top:645px;width:80px;height:16px;justify-content:flex-start"><span><b>2088</b> Mậu Thân</span></div>
<div class="a c yr" style="left:432px;top:661px;width:80px;height:15px;justify-content:flex-start"><span><b>2089</b> Kỷ Dậu</span></div>
<div class="a c yr" style="left:432px;top:676px;width:80px;height:16px;justify-content:flex-start"><span><b>2090</b> Canh Tuất</span></div>
<div class="a c yr" style="left:515px;top:536px;width:77px;height:16px;justify-content:flex-start"><span><b>2091</b> Tân Hợi</span></div>
<div class="a c yr" style="left:515px;top:552px;width:77px;height:15px;justify-content:flex-start"><span><b>2092</b> Nhâm Tý</span></div>
<div class="a c yr" style="left:515px;top:567px;width:77px;height:16px;justify-content:flex-start"><span><b>2093</b> Quý Sửu</span></div>
<div class="a c yr" style="left:515px;top:583px;width:77px;height:15px;justify-content:flex-start"><span><b>2094</b> Giáp Dần</span></div>
<div class="a c yr" style="left:515px;top:598px;width:77px;height:16px;justify-content:flex-start"><span><b>2095</b> Ất Mão</span></div>
<div class="a c yr" style="left:515px;top:614px;width:77px;height:16px;justify-content:flex-start"><span><b>2096</b> Bính Thìn</span></div>
<div class="a c yr" style="left:515px;top:630px;width:77px;height:15px;justify-content:flex-start"><span><b>2097</b> Đinh Tỵ</span></div>
<div class="a c yr" style="left:515px;top:645px;width:77px;height:16px;justify-content:flex-start"><span><b>2098</b> Mậu Ngọ</span></div>
<div class="a c yr" style="left:515px;top:661px;width:77px;height:15px;justify-content:flex-start"><span><b>2099</b> Kỷ Mùi</span></div>
<div class="a c yr" style="left:515px;top:676px;width:77px;height:16px;justify-content:flex-start"><span><b>2100</b> Canh Thân</span></div>
<div class="a c yr" style="left:595px;top:536px;width:80px;height:16px;justify-content:flex-start"><span><b>2101</b> Tân Dậu</span></div>
<div class="a c yr" style="left:595px;top:552px;width:80px;height:15px;justify-content:flex-start"><span><b>2102</b> Nhâm Tuất</span></div>
<div class="a c yr" style="left:595px;top:567px;width:80px;height:16px;justify-content:flex-start"><span><b>2103</b> Quý Hợi</span></div>
<div class="a c yr" style="left:595px;top:583px;width:80px;height:15px;justify-content:flex-start"><span><b>2104</b> Giáp Tý</span></div>
<div class="a c yr" style="left:595px;top:598px;width:80px;height:16px;justify-content:flex-start"><span><b>2105</b> Ất Sửu</span></div>
<div class="a c yr" style="left:595px;top:614px;width:80px;height:16px;justify-content:flex-start"><span><b>2106</b> Bính Dần</span></div>
<div class="a c yr" style="left:595px;top:630px;width:80px;height:15px;justify-content:flex-start"><span><b>2107</b> Đinh Mão</span></div>
<div class="a c yr" style="left:595px;top:645px;width:80px;height:16px;justify-content:flex-start"><span><b>2108</b> Mậu Thìn</span></div>
<div class="a c yr" style="left:595px;top:661px;width:80px;height:15px;justify-content:flex-start"><span><b>2109</b> Kỷ Tỵ</span></div>
<div class="a c yr" style="left:595px;top:676px;width:80px;height:16px;justify-content:flex-start"><span><b>2110</b> Canh Ngọ</span></div>
<div class="a c yr" style="left:678px;top:536px;width:80px;height:16px;justify-content:flex-start"><span><b>2111</b> Tân Mùi</span></div>
<div class="a c yr" style="left:678px;top:552px;width:80px;height:15px;justify-content:flex-start"><span><b>2112</b> Nhâm Thân</span></div>
<div class="a c yr" style="left:678px;top:567px;width:80px;height:16px;justify-content:flex-start"><span><b>2113</b> Quý Dậu</span></div>
<div class="a c yr" style="left:678px;top:583px;width:80px;height:15px;justify-content:flex-start"><span><b>2114</b> Giáp Tuất</span></div>
<div class="a c yr" style="left:678px;top:598px;width:80px;height:16px;justify-content:flex-start"><span><b>2115</b> Ất Hợi</span></div>
<div class="a c yr" style="left:678px;top:614px;width:80px;height:16px;justify-content:flex-start"><span><b>2116</b> Bính Tý</span></div>
<div class="a c yr" style="left:678px;top:630px;width:80px;height:15px;justify-content:flex-start"><span><b>2117</b> Đinh Sửu</span></div>
<div class="a c yr" style="left:678px;top:645px;width:80px;height:16px;justify-content:flex-start"><span><b>2118</b> Mậu Dần</span></div>
<div class="a c yr" style="left:678px;top:661px;width:80px;height:15px;justify-content:flex-start"><span><b>2119</b> Kỷ Mão</span></div>
<div class="a c yr" style="left:678px;top:676px;width:80px;height:16px;justify-content:flex-start"><span><b>2120</b> Canh Thìn</span></div>
<div class="a" style="left:777px;top:6px;width:237px;height:22px;background:#c55a11"></div>
<div class="a c yh" style="left:777px;top:6px;width:237px;height:22px;"><span>2021</span></div>
<div class="a" style="left:777px;top:28px;width:76px;height:110px;background:#ed7d31"></div>
<div class="a" style="left:777px;top:61px;width:76px;height:1px;background:#d4671f"></div>
<div class="a" style="left:777px;top:95px;width:76px;height:1px;background:#d4671f"></div>
<div class="a c lb" style="left:782px;top:28px;width:71px;height:33px;justify-content:flex-start"><span>THIÊN CAN</span></div>
<div class="a c lb" style="left:782px;top:61px;width:71px;height:34px;justify-content:flex-start"><span>ĐỊA CHI</span></div>
<div class="a c lb" style="left:782px;top:95px;width:71px;height:43px;justify-content:flex-start"><span>TÀNG CAN</span></div>
<div class="a" style="left:853px;top:28px;width:161px;height:110px;background:#fff"></div>
<div class="a" style="left:853px;top:48px;width:161px;height:1px;background:#dedede"></div>
<div class="a" style="left:853px;top:61px;width:161px;height:1px;background:#dedede"></div>
<div class="a" style="left:853px;top:81px;width:161px;height:1px;background:#dedede"></div>
<div class="a" style="left:853px;top:95px;width:161px;height:1px;background:#dedede"></div>
<div class="a" style="left:853px;top:113px;width:161px;height:1px;background:#dedede"></div>
<div class="a" style="left:777px;top:138px;width:237px;height:1px;background:#dedede"></div>
<div class="a" style="left:1013px;top:28px;width:1px;height:111px;background:#dedede"></div>
<div class="a" style="left:908px;top:95px;width:1px;height:43px;background:#dedede"></div>
<div class="a" style="left:959px;top:95px;width:1px;height:43px;background:#dedede"></div>
<div class="a c v2" style="left:853px;top:28px;width:161px;height:20px;"><span><span class="sm">TQ | </span>Tân</span></div>
<div class="a c el" style="left:853px;top:48px;width:161px;height:13px;"><span>-Kim</span></div>
<div class="a c v2" style="left:853px;top:61px;width:161px;height:20px;"><span>Sửu</span></div>
<div class="a c el" style="left:853px;top:81px;width:161px;height:14px;"><span>-Thổ</span></div>
<div class="a c sm" style="left:853px;top:95px;width:55px;height:18px;"><span>KT</span></div>
<div class="a c tg" style="left:853px;top:114px;width:55px;height:24px;"><span><i>Kỷ</i><br>-Thổ</span></div>
<div class="a c sm" style="left:908px;top:95px;width:51px;height:18px;"><span>CT</span></div>
<div class="a c tg" style="left:908px;top:114px;width:51px;height:24px;"><span><i>Quý</i><br>-Thủy</span></div>
<div class="a c sm" style="left:959px;top:95px;width:55px;height:18px;"><span>TQ</span></div>
<div class="a c tg" style="left:959px;top:114px;width:55px;height:24px;"><span><i>Tân</i><br>-Kim</span></div>
<div class="a" style="left:777px;top:194px;width:237px;height:22px;background:#ffc000"></div>
<div class="a c hd" style="left:777px;top:194px;width:237px;height:22px;font-size:7.5px"><span>PHƯƠNG HƯỚNG</span></div>
<div class="a" style="left:777px;top:216px;width:61px;height:101px;background:#fff2cc"></div>
<div class="a" style="left:777px;top:317px;width:61px;height:100px;background:#ffd966"></div>
<div class="a" style="left:838px;top:216px;width:55px;height:201px;background:#ffc000"></div>
<div class="a" style="left:893px;top:216px;width:121px;height:201px;background:#fff2cc"></div>
<div class="a c yb" style="left:777px;top:216px;width:61px;height:101px;"><span>TỐT</span></div>
<div class="a c yb" style="left:777px;top:317px;width:61px;height:100px;"><span>XẤU</span></div>
<div class="a c yl" style="left:843px;top:216px;width:49px;height:25px;justify-content:flex-start"><span>Sinh Khí</span></div>
<div class="a c yv" style="left:893px;top:216px;width:121px;height:25px;"><span>Tây<br><span class="ys">(Đoài-Kim)</span></span></div>
<div class="a" style="left:838px;top:241px;width:55px;height:1px;background:#e6ad00"></div>
<div class="a" style="left:893px;top:241px;width:121px;height:1px;background:#e8dcb8"></div>
<div class="a c yl" style="left:843px;top:241px;width:49px;height:25px;justify-content:flex-start"><span>Thiên Y</span></div>
<div class="a c yv" style="left:893px;top:241px;width:121px;height:25px;"><span>Đông Bắc<br><span class="ys">(Cấn-Thổ)</span></span></div>
<div class="a" style="left:838px;top:266px;width:55px;height:1px;background:#e6ad00"></div>
<div class="a" style="left:893px;top:266px;width:121px;height:1px;background:#e8dcb8"></div>
<div class="a c yl" style="left:843px;top:266px;width:49px;height:25px;justify-content:flex-start"><span>Diên Niên</span></div>
<div class="a c yv" style="left:893px;top:266px;width:121px;height:25px;"><span>Tây Nam<br><span class="ys">(Khôn-Thổ)</span></span></div>
<div class="a" style="left:838px;top:291px;width:55px;height:1px;background:#e6ad00"></div>
<div class="a" style="left:893px;top:291px;width:121px;height:1px;background:#e8dcb8"></div>
<div class="a c yl" style="left:843px;top:291px;width:49px;height:26px;justify-content:flex-start"><span>Phục Vị</span></div>
<div class="a c yv" style="left:893px;top:291px;width:121px;height:26px;"><span>Tây Bắc<br><span class="ys">(Càn-Kim)</span></span></div>
<div class="a" style="left:838px;top:317px;width:55px;height:1px;background:#e6ad00"></div>
<div class="a" style="left:893px;top:317px;width:121px;height:1px;background:#e8dcb8"></div>
<div class="a c yl" style="left:843px;top:317px;width:49px;height:25px;justify-content:flex-start"><span>Họa Hại</span></div>
<div class="a c yv" style="left:893px;top:317px;width:121px;height:25px;"><span>Đông Nam<br><span class="ys">(Tốn-Mộc)</span></span></div>
<div class="a" style="left:838px;top:342px;width:55px;height:1px;background:#e6ad00"></div>
<div class="a" style="left:893px;top:342px;width:121px;height:1px;background:#e8dcb8"></div>
<div class="a c yl" style="left:843px;top:342px;width:49px;height:25px;justify-content:flex-start"><span>Ngũ Quỷ</span></div>
<div class="a c yv" style="left:893px;top:342px;width:121px;height:25px;"><span>Đông<br><span class="ys">(Chấn-Mộc)</span></span></div>
<div class="a" style="left:838px;top:367px;width:55px;height:1px;background:#e6ad00"></div>
<div class="a" style="left:893px;top:367px;width:121px;height:1px;background:#e8dcb8"></div>
<div class="a c yl" style="left:843px;top:367px;width:49px;height:25px;justify-content:flex-start"><span>Lục Sát</span></div>
<div class="a c yv" style="left:893px;top:367px;width:121px;height:25px;"><span>Bắc<br><span class="ys">(Khảm-Thủy)</span></span></div>
<div class="a" style="left:838px;top:392px;width:55px;height:1px;background:#e6ad00"></div>
<div class="a" style="left:893px;top:392px;width:121px;height:1px;background:#e8dcb8"></div>
<div class="a c yl" style="left:843px;top:392px;width:49px;height:25px;justify-content:flex-start"><span>Tuyệt Mệnh</span></div>
<div class="a c yv" style="left:893px;top:392px;width:121px;height:25px;"><span>Nam<br><span class="ys">(Ly-Hỏa)</span></span></div>
<div class="a" style="left:777px;top:317px;width:61px;height:1px;background:#e6c97a"></div>
<div class="a" style="left:837px;top:216px;width:1px;height:201px;background:#f0d690"></div>
<div class="a" style="left:892px;top:216px;width:1px;height:201px;background:#e6ad00"></div>
<div class="a" style="left:777px;top:194px;width:1px;height:223px;background:#f2d27a"></div>
<div class="a" style="left:1013px;top:216px;width:1px;height:201px;background:#eadfc0"></div>
<div class="a" style="left:777px;top:416px;width:237px;height:1px;background:#eadfc0"></div>
<div class="a" style="left:777px;top:423px;width:237px;height:23px;background:#5b9bd5"></div>
<div class="a" style="left:777px;top:445px;width:237px;height:1px;background:#4f8fcc"></div>
<div class="a c hd" style="left:777px;top:423px;width:237px;height:23px;"><span>THẦN SÁT</span></div>
<div class="a" style="left:777px;top:446px;width:97px;height:250px;background:#5b9bd5"></div>
<div class="a" style="left:874px;top:446px;width:67px;height:250px;background:#bdd7ee"></div>
<div class="a" style="left:941px;top:446px;width:73px;height:250px;background:#ddebf7"></div>
<div class="a c bl" style="left:784px;top:446px;width:90px;height:27px;justify-content:flex-start"><span>Tướng Tinh</span></div>
<div class="a c bv" style="left:874px;top:446px;width:67px;height:27px;"><span>Ngọ</span></div>
<div class="a c bv" style="left:941px;top:446px;width:73px;height:27px;"><span>Dậu</span></div>
<div class="a" style="left:777px;top:473px;width:97px;height:1px;background:#4d8ecb"></div>
<div class="a" style="left:874px;top:473px;width:140px;height:1px;background:#a9c4e0"></div>
<div class="a c bl" style="left:784px;top:473px;width:90px;height:28px;justify-content:flex-start"><span>Quý Nhân</span></div>
<div class="a c bv" style="left:874px;top:473px;width:67px;height:28px;"><span>Sửu, Mùi</span></div>
<div class="a c bv" style="left:941px;top:473px;width:73px;height:28px;"><span>Ngọ, Dần</span></div>
<div class="a" style="left:777px;top:501px;width:97px;height:1px;background:#4d8ecb"></div>
<div class="a" style="left:874px;top:501px;width:140px;height:1px;background:#a9c4e0"></div>
<div class="a c bl" style="left:784px;top:501px;width:90px;height:27px;justify-content:flex-start"><span>Văn Xương</span></div>
<div class="a c bv" style="left:874px;top:501px;width:67px;height:27px;"><span>Thân</span></div>
<div class="a c bv" style="left:941px;top:501px;width:73px;height:27px;"><span>Tý</span></div>
<div class="a" style="left:777px;top:528px;width:97px;height:1px;background:#4d8ecb"></div>
<div class="a" style="left:874px;top:528px;width:140px;height:1px;background:#a9c4e0"></div>
<div class="a c bl" style="left:784px;top:528px;width:90px;height:27px;justify-content:flex-start"><span>Học Đường</span></div>
<div class="a c bv" style="left:874px;top:528px;width:67px;height:27px;"><span>Dần</span></div>
<div class="a c bv" style="left:941px;top:528px;width:73px;height:27px;"><span>Tý</span></div>
<div class="a" style="left:777px;top:555px;width:97px;height:1px;background:#4d8ecb"></div>
<div class="a" style="left:874px;top:555px;width:140px;height:1px;background:#a9c4e0"></div>
<div class="a c bl" style="left:784px;top:555px;width:90px;height:27px;justify-content:flex-start"><span>Đào Hoa</span></div>
<div class="a c bv" style="left:874px;top:555px;width:67px;height:27px;"><span>Mão</span></div>
<div class="a c bv" style="left:941px;top:555px;width:73px;height:27px;"><span>Ngọ</span></div>
<div class="a" style="left:777px;top:582px;width:97px;height:1px;background:#4d8ecb"></div>
<div class="a" style="left:874px;top:582px;width:140px;height:1px;background:#a9c4e0"></div>
<div class="a c bl" style="left:784px;top:582px;width:90px;height:28px;justify-content:flex-start"><span>Thiên Mã</span></div>
<div class="a c bv" style="left:874px;top:582px;width:67px;height:28px;"><span>Thân</span></div>
<div class="a c bv" style="left:941px;top:582px;width:73px;height:28px;"><span>Hợi</span></div>
<div class="a" style="left:777px;top:610px;width:97px;height:1px;background:#4d8ecb"></div>
<div class="a" style="left:874px;top:610px;width:140px;height:1px;background:#a9c4e0"></div>
<div class="a c bl" style="left:784px;top:610px;width:90px;height:27px;justify-content:flex-start"><span>Thiên Hỷ</span></div>
<div class="a c bv" style="left:874px;top:610px;width:67px;height:27px;"><span>Mùi</span></div>
<div class="a c bv" style="left:941px;top:610px;width:73px;height:27px;"><span>Thân</span></div>
<div class="a" style="left:777px;top:637px;width:97px;height:1px;background:#4d8ecb"></div>
<div class="a" style="left:874px;top:637px;width:140px;height:1px;background:#a9c4e0"></div>
<div class="a c bl" style="left:784px;top:637px;width:90px;height:27px;justify-content:flex-start"><span>Hồng Loan</span></div>
<div class="a c bv" style="left:874px;top:637px;width:67px;height:27px;"><span>Dậu</span></div>
<div class="a c bv" style="left:941px;top:637px;width:73px;height:27px;"><span>Dần</span></div>
<div class="a" style="left:777px;top:664px;width:97px;height:1px;background:#4d8ecb"></div>
<div class="a" style="left:874px;top:664px;width:140px;height:1px;background:#a9c4e0"></div>
<div class="a c bl" style="left:784px;top:664px;width:90px;height:28px;justify-content:flex-start"><span>Cô Thần</span></div>
<div class="a c bv" style="left:874px;top:664px;width:67px;height:28px;"><span>Thân</span></div>
<div class="a c bv" style="left:941px;top:664px;width:73px;height:28px;"><span>Dần</span></div>
<div class="a" style="left:777px;top:692px;width:97px;height:1px;background:#4d8ecb"></div>
<div class="a" style="left:874px;top:692px;width:140px;height:1px;background:#a9c4e0"></div>
<div class="a c bl" style="left:784px;top:692px;width:90px;height:27px;justify-content:flex-start"><span>Quả Tú</span></div>
<div class="a c bv" style="left:874px;top:692px;width:67px;height:27px;"><span>Tuất</span></div>
<div class="a c bv" style="left:941px;top:692px;width:73px;height:27px;"><span>Tuất</span></div>
<div class="a" style="left:777px;top:719px;width:97px;height:1px;background:#4d8ecb"></div>
<div class="a" style="left:874px;top:719px;width:140px;height:1px;background:#a9c4e0"></div>
<div class="a" style="left:873px;top:446px;width:1px;height:250px;background:#4d8ecb"></div>
<div class="a" style="left:940px;top:446px;width:1px;height:250px;background:#a9c4e0"></div>
<div class="a" style="left:1013px;top:446px;width:1px;height:250px;background:#c6d6e6"></div>
</body></html>
